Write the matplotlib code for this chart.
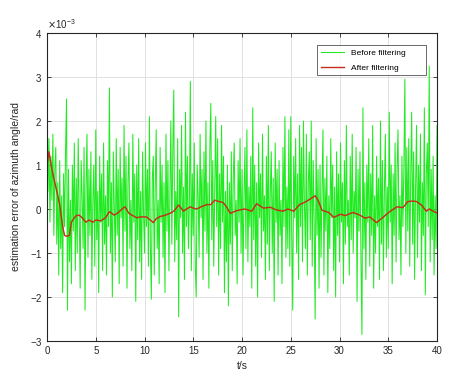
import numpy as np
import matplotlib
matplotlib.use("Agg")
import matplotlib.pyplot as plt
from matplotlib.ticker import ScalarFormatter

plt.rcParams['font.family'] = ['Liberation Sans', 'DejaVu Sans']

# Before filtering, sampled every 0.1 s from 0 to 40 s (units of 1e-3 rad)
t_raw_step = 0.1
raw_vals = [
    3.0, 0.4, 1.6, -0.3, 1.2, 0.2, 1.7, -0.6, 0.9, 1.4,
    -0.8, 0.6, -1.5, 1.1, -0.9, 0.3, -1.9, 0.8, -0.4, 1.3,
    2.5, -2.3, 0.9, -1.2, 0.2, -1.7, 1.0, -0.5, 1.5, -1.4,
    0.7, -1.0, 1.6, -0.2, -1.8, 1.1, 0.3, -0.9, 1.4, -2.3,
    0.5, 1.7, -1.1, 0.9, -0.6, 1.3, -1.6, 0.2, 1.0, -1.3,
    1.8, -0.7, 0.4, -1.9, 1.2, -0.3, 0.8, -1.4, 1.5, -0.8,
    0.3, -1.5, 1.1, -0.4, 2.75, -1.0, 0.6, -2.0, 1.3, 0.1,
    -1.2, 1.6, -0.6, 0.9, -1.7, 1.4, -0.2, 0.7, -1.3, 1.9,
    -0.5, 1.2, -1.8, 0.6, 1.5, -0.9, 0.2, -1.4, 1.7, -0.3,
    0.8, -2.1, 1.0, -0.7, 1.6, -1.2, 0.4, -1.6, 1.3, -0.1,
    -1.0, 1.5, -0.4, 0.9, -1.3, 2.1, -0.8, -2.05, 0.7, 1.2,
    -1.5, 0.5, 1.8, -0.9, 0.2, -1.7, 1.4, -0.3, 1.0, -1.1,
    0.6, -1.9, 1.7, -0.5, 1.1, -1.4, 0.3, 2.0, -0.8, 1.3,
    2.7, -1.2, 0.4, -0.7, 1.6, -2.45, 0.9, -0.2, 1.9, -1.0,
    0.5, -1.6, 2.2, -0.4, 1.2, -0.9, 0.1, 2.9, -1.4, 0.8,
    -0.6, 1.5, -1.3, -2.0, 1.0, 0.3, -1.1, 1.7, -0.2, 0.9,
    -1.6, 1.3, -0.5, 2.0, -1.0, 0.6, -1.8, 1.4, 2.4, -0.7,
    1.1, -1.3, 0.5, 2.1, -0.4, 1.6, -1.5, 0.8, -0.9, 1.9,
    -0.3, 1.2, -1.9, 0.4, -1.2, 1.0, -2.2, 0.6, -0.8, 1.3,
    -1.4, 0.7, 1.5, -0.6, 0.2, -1.7, 1.1, -0.3, 1.6, -1.0,
    0.9, -1.5, 0.3, 1.4, -0.9, 1.8, -1.2, 0.5, -0.4, 1.2,
    -1.8, 2.3, -0.7, 1.0, -1.3, 0.6, -2.0, 1.5, -0.2, 0.8,
    -1.1, 1.7, -0.5, 0.3, -1.6, 1.2, -0.8, 1.9, -1.4, 0.4,
    1.3, -1.0, 0.7, -2.1, 1.5, -0.3, 0.9, -1.5, 1.1, -0.6,
    0.2, -1.7, 1.4, -0.4, 2.1, -1.1, 0.5, -0.9, 1.8, -1.3,
    2.1, -0.6, -2.3, 1.2, -0.2, 1.6, -1.0, 0.8, -1.6, 1.9,
    -0.4, 1.4, -1.2, 2.0, 0.1, -0.9, 1.7, -1.5, 0.6, 1.3,
    -0.7, 2.0, -1.3, 1.1, -0.3, -2.5, 1.6, -0.6, 0.9, -1.8,
    1.0, -1.1, 0.4, 1.8, -1.5, 0.7, -0.5, 1.2, -1.9, 0.3,
    -0.9, 1.6, -0.2, 1.0, -1.4, 0.5, -2.0, 1.3, -0.6, 0.8,
    -1.2, 1.5, -0.3, 0.6, -1.7, 1.1, -0.8, 1.9, -0.4, 0.2,
    -1.5, 1.2, -0.7, 1.7, -1.0, 0.4, -0.2, 1.4, -2.1, 0.9,
    -0.5, 1.3, -1.2, -2.85, 2.3, -0.9, 0.6, -1.6, 1.0, -0.3,
    1.6, -1.3, 0.8, -0.6, 1.9, -1.8, 0.3, -1.0, 1.2, -0.4,
    0.7, -1.6, 2.0, -0.8, 1.1, -1.4, 0.4, 1.7, -1.1, 0.5,
    -0.9, 2.2, -0.3, 1.0, -1.7, 0.8, -0.6, 1.5, -1.2, 0.9,
    1.8, -0.7, 0.3, -1.5, 1.2, -0.4, 0.9, 2.95, -1.0, 1.4,
    -0.5, 1.6, -1.3, 0.7, 2.2, -0.8, 1.3, -1.6, 0.5, 1.9,
    -1.1, 1.0, -0.3, 1.7, -1.4, 0.6, -0.6, 2.3, -1.95, 0.8,
    1.5, -0.4, 3.25, -1.2, 0.9, -0.7, 1.2, -1.5, 0.3, -0.9,
    1.9,
]

# After filtering (units of 1e-3 rad)
filt_t = [0.0, 0.2, 0.5, 0.8, 1.0, 1.3, 1.6, 1.8, 2.0, 2.3, 2.5, 2.8, 3.0, 3.3,
          3.6, 4.0, 4.3, 4.7, 5.0, 5.5, 6.0, 6.4, 6.9, 7.3, 7.7, 8.0, 8.4, 8.8,
          9.2, 9.6, 10.2, 10.6, 10.9, 11.2, 11.6, 12.0, 12.6, 13.0, 13.5, 14.0,
          14.3, 14.7, 15.0, 15.35, 15.8, 16.4, 16.8, 17.2, 17.6, 18.05, 18.4,
          18.8, 19.3, 19.8, 20.3, 21.0, 21.5, 22.2, 22.9, 23.5, 24.2, 24.7,
          25.3, 25.9, 26.4, 26.8, 27.5, 27.8, 28.2, 28.9, 29.4, 30.1, 30.6,
          31.1, 31.4, 32.1, 32.6, 33.1, 33.8, 34.5, 35.2, 35.9, 36.5, 37.0,
          37.5, 37.9, 38.4, 38.9, 39.2, 39.6, 40.0]
filt_vals = [1.0, 1.3, 0.9, 0.6, 0.4, 0.1, -0.4, -0.6, -0.62, -0.6, -0.3, -0.2,
             -0.15, -0.14, -0.2, -0.3, -0.25, -0.3, -0.25, -0.27, -0.2, -0.06,
             -0.14, -0.08, 0.0, 0.05, -0.1, -0.15, -0.2, -0.18, -0.18, -0.25,
             -0.31, -0.22, -0.17, -0.15, -0.1, -0.05, 0.09, -0.05, 0.0, 0.05,
             0.02, 0.0, 0.05, 0.1, 0.1, 0.2, 0.17, 0.15, 0.05, -0.1, -0.05,
             -0.02, 0.0, -0.05, 0.12, 0.02, 0.04, -0.02, -0.05, 0.0, -0.05, 0.1,
             0.15, 0.2, 0.3, 0.2, -0.03, -0.08, -0.19, -0.12, -0.15, -0.1, -0.08,
             -0.14, -0.21, -0.18, -0.31, -0.18, -0.05, 0.05, 0.03, 0.17, 0.18,
             0.17, 0.09, -0.05, 0.0, -0.05, -0.09]

scale = 1e-3
t_raw = np.arange(len(raw_vals)) * t_raw_step
y_raw = np.array(raw_vals) * scale
y_filt = np.array(filt_vals) * scale

fig = plt.figure(figsize=(4.74, 3.83), dpi=100)
ax = fig.add_axes([0.0992, 0.1097, 0.8228, 0.8041])

ax.plot(t_raw, y_raw, color='#22ea22', lw=0.75, label='Before filtering')
ax.plot(filt_t, y_filt, color='#c4301a', lw=1.05, label='After filtering')

ax.set_xlim(0, 40)
ax.set_ylim(-3e-3, 4e-3)
ax.set_xticks(np.arange(0, 41, 5))
ax.set_yticks(np.arange(-3, 5, 1) * scale)

fmt = ScalarFormatter(useMathText=True)
fmt.set_powerlimits((-3, -3))
ax.yaxis.set_major_formatter(fmt)
ax.yaxis.get_offset_text().set_fontsize(7)
ax.yaxis.get_offset_text().set_color('#262626')

ax.grid(True, color='#dcdcdc', lw=0.6)
ax.set_axisbelow(True)
ax.tick_params(direction='in', length=3, width=0.6, labelsize=7,
               colors='#262626', top=True, right=True)
for s in ax.spines.values():
    s.set_linewidth(0.8)
    s.set_color('#262626')

ax.set_xlabel('t/s', fontsize=7.5, color='#262626', labelpad=4)
ax.set_ylabel('estimation error of azimuth angle/rad', fontsize=7.5,
              color='#262626', labelpad=6)

leg = ax.legend(loc='upper left', fontsize=6, frameon=True, fancybox=False,
                edgecolor='#262626', borderpad=0.45, handlelength=2.8,
                handletextpad=0.8, labelspacing=0.85, borderaxespad=0,
                mode='expand', bbox_to_anchor=(0.692, 0.854, 0.280, 0.107))
leg.get_frame().set_linewidth(0.6)
leg.legend_handles[1].set_linewidth(1.0)

fig.savefig('out.png', dpi=100)
